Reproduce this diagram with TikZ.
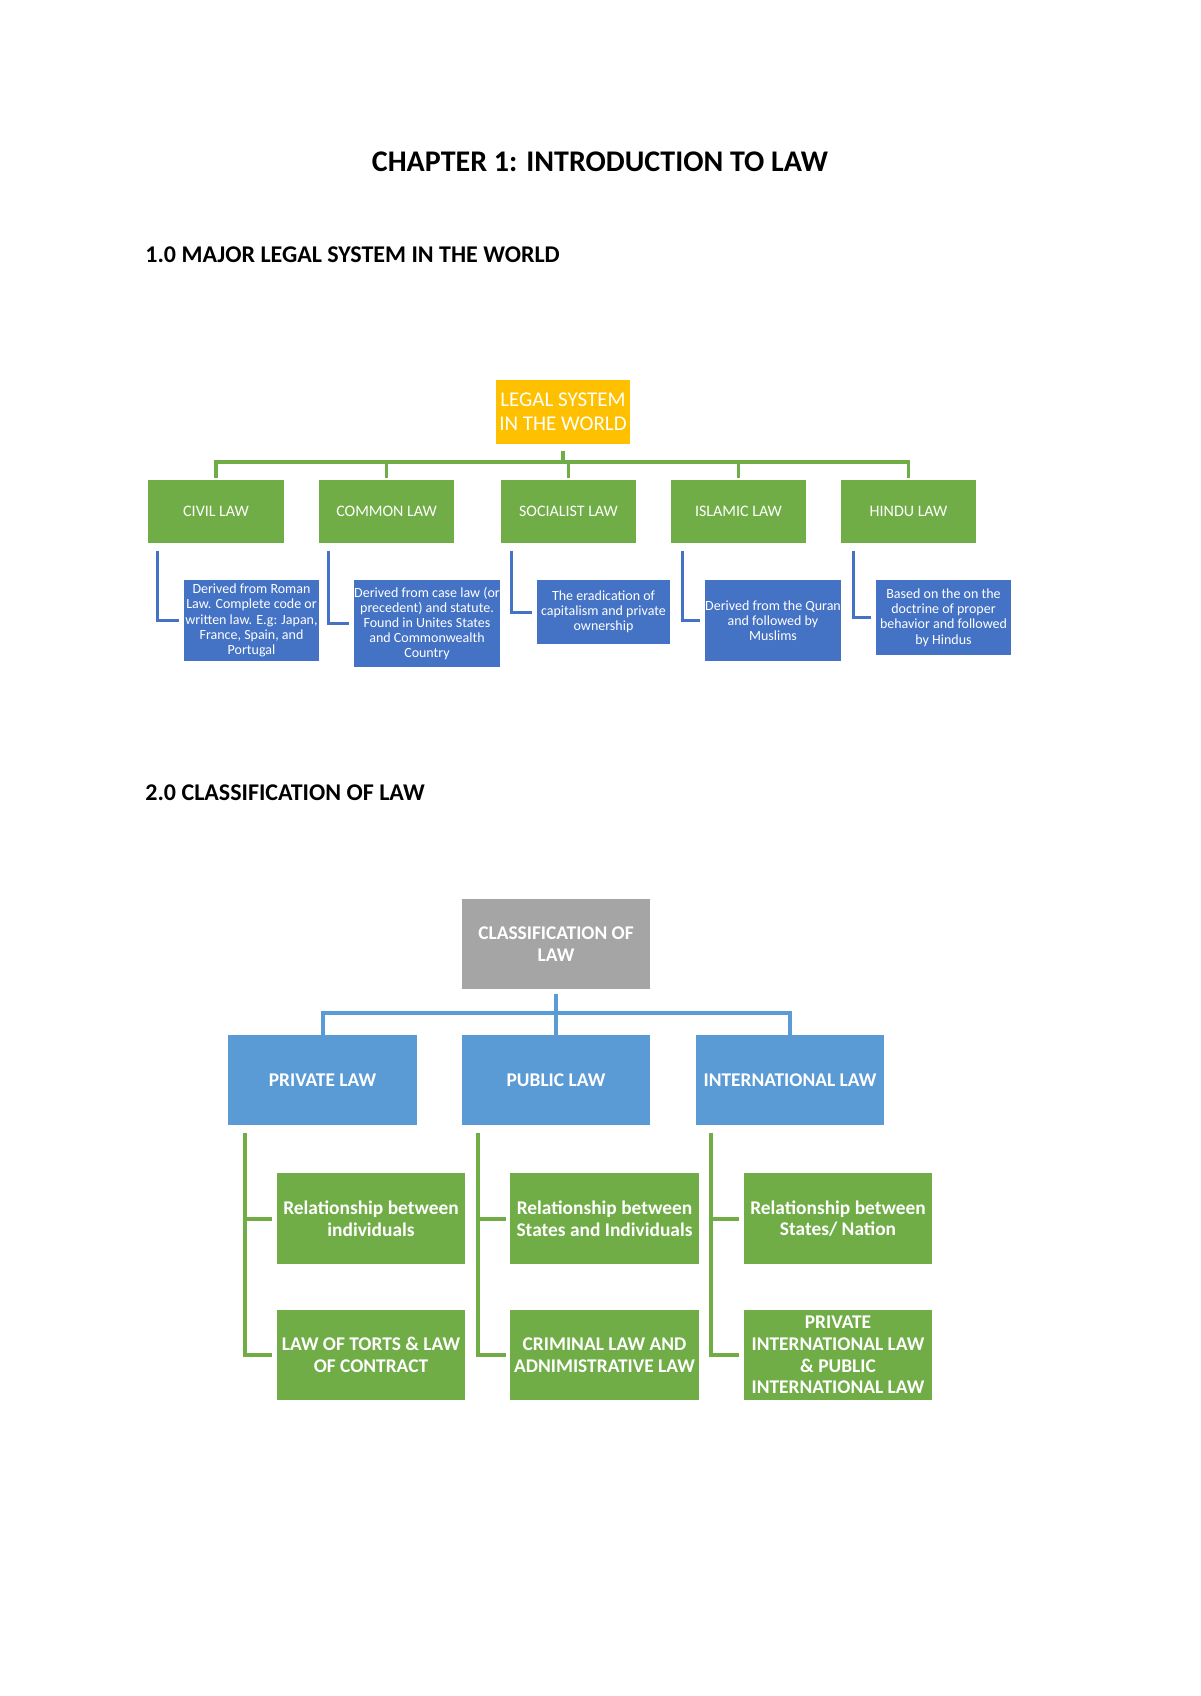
\documentclass[tikz,border=0pt]{standalone}
\usepackage{fontspec}
\setmainfont{Carlito}
\definecolor{gold}{HTML}{FFC000}
\definecolor{leafgreen}{HTML}{70AD47}
\definecolor{deepblue}{HTML}{4472C4}
\definecolor{skyblue}{HTML}{5B9BD5}
\definecolor{stonegray}{HTML}{A5A5A5}
\begin{document}
\begin{tikzpicture}[x=0.5pt,y=-0.5pt,
  box/.style={rectangle, draw=white, line width=0.6pt, inner sep=0pt, align=center, text=white},
  rootbox/.style={box, fill=gold, minimum width=68pt, minimum height=33pt, font=\fontsize{10.5}{12}\selectfont},
  sysbox/.style={box, fill=leafgreen, minimum width=68.5pt, minimum height=32.5pt, font=\fontsize{8}{9.6}\selectfont},
  descbox/.style={box, fill=deepblue, font=\fontsize{7}{7.6}\selectfont},
  classbox/.style={box, minimum width=95pt, minimum height=46pt, font=\bfseries\fontsize{9.7}{10.8}\selectfont},
  greenbus/.style={draw=leafgreen, line width=1.75pt},
  bluelink/.style={draw=deepblue, line width=1.5pt},
  skybus/.style={draw=skyblue, line width=2pt},
  greenlink/.style={draw=leafgreen, line width=2pt},
  heading/.style={anchor=west, inner sep=0pt, font=\bfseries\fontsize{12}{14}\selectfont}
]
\useasboundingbox (0,0) rectangle (1200,1696);

% titles
\node[inner sep=0pt, font=\bfseries\fontsize{15}{18}\selectfont] (title) at (600,162) {CHAPTER 1: INTRODUCTION TO LAW};
\node[heading] (h1) at (145,255) {1.0 MAJOR LEGAL SYSTEM IN THE WORLD};
\node[heading] (h2) at (145,793) {2.0 CLASSIFICATION OF LAW};

% ---------- legal systems ----------
\node[rootbox] (legal) at (563,412) {LEGAL SYSTEM\\IN THE WORLD};

\node[sysbox] (civil)     at (216,511.5)   {CIVIL LAW};
\node[sysbox] (common)    at (386.5,511.5) {COMMON LAW};
\node[sysbox] (socialist) at (568.5,511.5) {SOCIALIST LAW};
\node[sysbox] (islamic)   at (738.5,511.5) {ISLAMIC LAW};
\node[sysbox] (hindu)     at (908.5,511.5) {HINDU LAW};

\node[descbox, minimum width=68.5pt, minimum height=41.5pt] (civild) at (251.5,620.5)
  {Derived from Roman\\Law. Complete code or\\written law. E.g: Japan,\\France, Spain, and\\Portugal};
\node[descbox, minimum width=74pt, minimum height=44.5pt] (commond) at (427,623.5)
  {Derived from case law (or\\precedent) and statute.\\Found in Unites States\\and Commonwealth\\Country};
\node[descbox, minimum width=67.5pt, minimum height=33pt] (socialistd) at (603.5,612)
  {The eradication of\\capitalism and private\\ownership};
\node[descbox, minimum width=69pt, minimum height=41.5pt] (islamicd) at (773,620.5)
  {Derived from the Quran\\and followed by\\Muslims};
\node[descbox, minimum width=68.5pt, minimum height=38.5pt] (hindud) at (943.5,617.5)
  {Based on the on the\\doctrine of proper\\behavior and followed\\by Hindus};

\coordinate (bus) at (563,462);
\draw[greenbus] (legal.south) ++(0,5) -- (legal.south |- bus);
\draw[greenbus] (civil.north) |- (hindu.north |- bus) -- (hindu.north);
\foreach \n in {common,socialist,islamic}
  \draw[greenbus] (\n.north) -- (\n.north |- bus);

\draw[bluelink] (civil.south west) ++(11,6) |- ([xshift=-1.5pt]civild.west);
\draw[bluelink] (common.south west) ++(11,6) |- ([xshift=-1.5pt]commond.west);
\draw[bluelink] (socialist.south west) ++(12,6) |- ([xshift=-1.5pt]socialistd.west);
\draw[bluelink] (islamic.south west) ++(13,6) |- ([xshift=-1.5pt]islamicd.west);
\draw[bluelink] (hindu.south west) ++(14,6) |- ([xshift=-1.5pt]hindud.west);

% ---------- classification of law ----------
\node[classbox, fill=stonegray] (classif) at (556,944) {CLASSIFICATION OF\\LAW};

\node[classbox, fill=skyblue] (private) at (322.5,1080) {PRIVATE LAW};
\node[classbox, fill=skyblue] (public)  at (556,1080)   {PUBLIC LAW};
\node[classbox, fill=skyblue] (intl)    at (790,1080)   {INTERNATIONAL LAW};

\node[classbox, fill=leafgreen] (privA) at (371,1218.5)   {Relationship between\\individuals};
\node[classbox, fill=leafgreen] (privB) at (371,1355)     {LAW OF TORTS \& LAW\\OF CONTRACT};
\node[classbox, fill=leafgreen] (pubA)  at (604.5,1218.5) {Relationship between\\States and Individuals};
\node[classbox, fill=leafgreen] (pubB)  at (604.5,1355)   {CRIMINAL LAW AND\\ADNIMISTRATIVE LAW};
\node[classbox, fill=leafgreen] (intA)  at (838,1218.5)   {Relationship between\\States/ Nation};
\node[classbox, fill=leafgreen] (intB)  at (838,1355)     {PRIVATE\\INTERNATIONAL LAW\\\& PUBLIC\\INTERNATIONAL LAW};

\coordinate (cbus) at (556,1013);
\draw[skybus] (classif.south) ++(0,3) -- (classif.south |- cbus);
\draw[skybus] ([yshift=-1.5pt]private.north) |- (intl.north |- cbus) -- ([yshift=-1.5pt]intl.north);
\draw[skybus] ([yshift=-1.5pt]public.north) -- (public.north |- cbus);

\draw[greenlink] (private.south west) ++(18,6) |- ([xshift=-1.5pt]privB.west);
\draw[greenlink] (privA.west -| private.south west) ++(18,0) -- ([xshift=-1.5pt]privA.west);
\draw[greenlink] (public.south west) ++(18,6) |- ([xshift=-1.5pt]pubB.west);
\draw[greenlink] (pubA.west -| public.south west) ++(18,0) -- ([xshift=-1.5pt]pubA.west);
\draw[greenlink] (intl.south west) ++(17,6) |- ([xshift=-1.5pt]intB.west);
\draw[greenlink] (intA.west -| intl.south west) ++(17,0) -- ([xshift=-1.5pt]intA.west);
\end{tikzpicture}
\end{document}
